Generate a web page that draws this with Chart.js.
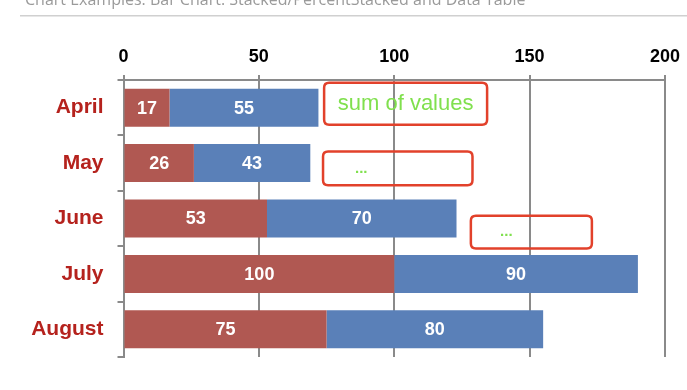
<!DOCTYPE html>
<html>
<head>
<meta charset="utf-8">
<script src="https://cdn.jsdelivr.net/npm/chart.js@4/dist/chart.umd.min.js"></script>
<style>
html,body{margin:0;padding:0;background:#fff;}
#wrap{position:relative;width:687px;height:390px;}
</style>
</head>
<body>
<div id="wrap"><canvas id="c" width="687" height="390"></canvas></div>
<script>
const categories = ['April', 'May', 'June', 'July', 'August'];
const seriesA = [17, 26, 53, 100, 75];
const seriesB = [55, 43, 70, 90, 80];
const xTicks = [0, 50, 100, 150, 200];
const titleText = 'Chart Examples: Bar Chart: Stacked/PercentStacked and Data Table';
const noteTexts = ['sum of values', '...', '...'];
// note boxes in axis units: [xFrom, xTo, catFrom, catTo, textX]
const noteBoxes = [
  [74.1, 134.3, -0.45, 0.31, 104.2],
  [73.7, 128.9, 0.79, 1.40, 87.8],
  [128.3, 173.0, 1.95, 2.54, 141.4]
];

const GRID = '#8a8a8a';

const headerPlugin = {
  id: 'header',
  beforeDraw(chart) {
    const ctx = chart.ctx;
    ctx.save();
    ctx.fillStyle = '#9a9a9a';
    ctx.font = '16px "Open Sans", sans-serif';
    ctx.textBaseline = 'alphabetic';
    ctx.textAlign = 'left';
    ctx.fillText(titleText, 25, 5);
    ctx.strokeStyle = '#d0d0d0';
    ctx.lineWidth = 1.5;
    ctx.beginPath();
    ctx.moveTo(20, 15.75);
    ctx.lineTo(687, 15.75);
    ctx.stroke();
    ctx.restore();
  }
};

const valueLabels = {
  id: 'valueLabels',
  afterDatasetsDraw(chart) {
    const ctx = chart.ctx;
    ctx.save();
    ctx.fillStyle = '#ffffff';
    ctx.font = 'bold 18px "Liberation Sans", Arial, sans-serif';
    ctx.textAlign = 'center';
    ctx.textBaseline = 'middle';
    chart.data.datasets.forEach((ds, di) => {
      const meta = chart.getDatasetMeta(di);
      meta.data.forEach((bar, i) => {
        const p = bar.getProps(['x', 'y', 'base'], true);
        ctx.fillText(String(ds.data[i]), (p.x + p.base) / 2, p.y + 1);
      });
    });
    ctx.restore();
  }
};

function roundRect(ctx, x, y, w, h, r) {
  ctx.beginPath();
  ctx.moveTo(x + r, y);
  ctx.lineTo(x + w - r, y);
  ctx.quadraticCurveTo(x + w, y, x + w, y + r);
  ctx.lineTo(x + w, y + h - r);
  ctx.quadraticCurveTo(x + w, y + h, x + w - r, y + h);
  ctx.lineTo(x + r, y + h);
  ctx.quadraticCurveTo(x, y + h, x, y + h - r);
  ctx.lineTo(x, y + r);
  ctx.quadraticCurveTo(x, y, x + r, y);
  ctx.closePath();
}

const notesPlugin = {
  id: 'notes',
  afterDraw(chart) {
    const ctx = chart.ctx;
    const xs = chart.scales.x, ys = chart.scales.y;
    ctx.save();
    noteBoxes.forEach((b, i) => {
      const x0 = xs.getPixelForValue(b[0]), x1 = xs.getPixelForValue(b[1]);
      const y0 = ys.getPixelForValue(b[2]), y1 = ys.getPixelForValue(b[3]);
      ctx.strokeStyle = '#e2412b';
      ctx.lineWidth = 2.5;
      roundRect(ctx, x0, y0, x1 - x0, y1 - y0, 5);
      ctx.stroke();
      ctx.fillStyle = '#80e04e';
      ctx.font = (i === 0 ? '22px' : 'bold 15px') + ' "Liberation Sans", Arial, sans-serif';
      ctx.textAlign = 'center';
      ctx.textBaseline = 'middle';
      ctx.fillText(noteTexts[i], xs.getPixelForValue(b[4]), (y0 + y1) / 2);
    });
    ctx.restore();
  }
};

new Chart(document.getElementById('c'), {
  type: 'bar',
  data: {
    labels: categories,
    datasets: [
      { label: 'A', data: seriesA, backgroundColor: '#b05852', borderWidth: 0, barPercentage: 0.686, categoryPercentage: 1 },
      { label: 'B', data: seriesB, backgroundColor: '#5a80b8', borderWidth: 0, barPercentage: 0.686, categoryPercentage: 1 }
    ]
  },
  options: {
    indexAxis: 'y',
    responsive: false,
    animation: false,
    devicePixelRatio: 1,
    layout: { padding: { top: 20, right: 22, bottom: 33, left: 0 } },
    plugins: { legend: { display: false }, tooltip: { enabled: false }, title: { display: false } },
    scales: {
      x: {
        position: 'top',
        stacked: true,
        min: xTicks[0],
        max: xTicks[xTicks.length - 1],
        afterBuildTicks(scale) { scale.ticks = xTicks.map(v => ({ value: v })); },
        afterFit(scale) { scale.height = 60; },
        grid: { color: GRID, lineWidth: 2, tickLength: 5, drawTicks: true },
        border: { display: true, color: GRID, width: 2 },
        ticks: { color: '#000', font: { family: '"Liberation Sans", Arial, sans-serif', size: 18, weight: 'bold' }, padding: 7 }
      },
      y: {
        stacked: true,
        afterFit(scale) { scale.width = 123.5; },
        grid: { offset: true, drawOnChartArea: false, color: GRID, lineWidth: 2, tickLength: 6 },
        border: { display: true, color: GRID, width: 2 },
        ticks: { color: '#b5221d', font: { family: '"Liberation Sans", Arial, sans-serif', size: 21, weight: 'bold' }, padding: 14 }
      }
    }
  },
  plugins: [headerPlugin, valueLabels, notesPlugin]
});
</script>
</body>
</html>
